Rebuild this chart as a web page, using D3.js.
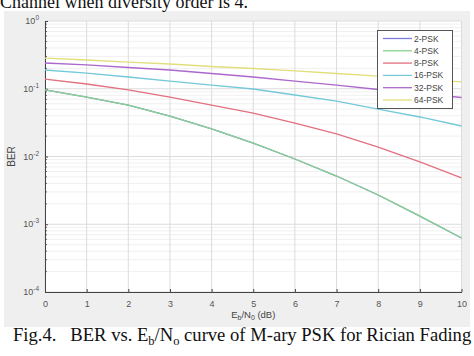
<!DOCTYPE html>
<html><head><meta charset="utf-8">
<script src="https://cdn.jsdelivr.net/npm/d3@7"></script>
<style>html,body{margin:0;padding:0;background:#fff;overflow:hidden}</style>
</head><body>
<svg id="c" width="474" height="356"></svg>
<script>
const ebno = [0,1,2,3,4,5,6,7,8,9,10];
const seriesNames = ["2-PSK","4-PSK","8-PSK","16-PSK","32-PSK","64-PSK"];
const ber2psk  = [0.0959,0.0755,0.0575,0.0396,0.0255,0.0158,0.00918,0.00515,0.00270,0.00132,0.000627];
const ber4psk  = [0.0959,0.0755,0.0575,0.0396,0.0255,0.0158,0.00918,0.00515,0.00270,0.00132,0.000627];
const ber8psk  = [0.139,0.1175,0.096,0.0755,0.0575,0.0438,0.0312,0.0215,0.0138,0.0083,0.00482];
const ber16psk = [0.189,0.1706,0.149,0.130,0.1135,0.0991,0.0809,0.0659,0.0502,0.0383,0.0282];
const ber32psk = [0.240,0.2244,0.206,0.189,0.168,0.149,0.130,0.1135,0.0975,0.0851,0.0743];
const ber64psk = [0.284,0.2656,0.248,0.232,0.213,0.199,0.183,0.168,0.154,0.139,0.126];
const xTicks = [0,1,2,3,4,5,6,7,8,9,10];
const yTicks = [1,0.1,0.01,0.001,0.0001];
const yTickExp = ["0","-1","-2","-3","-4"];
const colors = ["#7c7cd8","#88d48c","#e2707e","#74c8d8","#ac68cc","#e2de7c"];
const allSeries = [ber2psk,ber4psk,ber8psk,ber16psk,ber32psk,ber64psk];

const svg = d3.select("#c");
// figure gray background
svg.append("rect").attr("x",4).attr("y",11).attr("width",466).attr("height",316).attr("fill","#efefef");
// caption texts
svg.append("text").attr("x",0).attr("y",8).attr("font-family","Liberation Serif, Times New Roman, serif")
  .attr("font-size",18).attr("fill","#111").text("Channel when diversity order is 4.");
const cap = svg.append("text").attr("x",13).attr("y",341).attr("font-family","Liberation Serif, Times New Roman, serif")
  .attr("font-size",18.6).attr("fill","#111").attr("xml:space","preserve");
cap.append("tspan").text("Fig.4.   BER vs. E");
cap.append("tspan").attr("font-size",12.5).attr("dy",4).text("b");
cap.append("tspan").attr("dy",-4).text("/N");
cap.append("tspan").attr("font-size",12.5).attr("dy",4).text("o");
cap.append("tspan").attr("dy",-4).text(" curve of M-ary PSK for Rician Fading");

const L=45, R=461.5, T=21, B=292;
const x = d3.scaleLinear().domain([0,10]).range([L,R]);
const y = d3.scaleLog().domain([1e-4,1]).range([B,T]);
svg.append("rect").attr("x",L).attr("y",T).attr("width",R-L).attr("height",B-T).attr("fill","#fff");

// minor grid
const minor = [];
for (let e=-4;e<0;e++) for (let m=2;m<=9;m++) minor.push(m*Math.pow(10,e));
svg.append("g").selectAll("line").data(minor).join("line")
  .attr("x1",L).attr("x2",R).attr("y1",d=>y(d)).attr("y2",d=>y(d))
  .attr("stroke","#ececec").attr("stroke-width",0.8);
// major grid
svg.append("g").selectAll("line").data(yTicks).join("line")
  .attr("x1",L).attr("x2",R).attr("y1",d=>y(d)).attr("y2",d=>y(d))
  .attr("stroke","#dcdcdc").attr("stroke-width",1);
svg.append("g").selectAll("line").data(xTicks).join("line")
  .attr("x1",d=>x(d)).attr("x2",d=>x(d)).attr("y1",T).attr("y2",B)
  .attr("stroke","#dcdcdc").attr("stroke-width",1);

// axes
const gx = svg.append("g").attr("transform",`translate(0,${B})`)
  .call(d3.axisBottom(x).tickValues(xTicks).tickSize(-3).tickSizeOuter(0).tickFormat(d3.format("d")).tickPadding(9));
gx.select(".domain").attr("stroke","#444");
gx.selectAll(".tick line").attr("stroke","#444");
gx.selectAll("text").attr("font-family","Liberation Sans, Arial, sans-serif").attr("font-size",9).attr("fill","#555");

const gy = svg.append("g").attr("transform",`translate(${L},0)`)
  .call(d3.axisLeft(y).tickValues(yTicks).tickSize(-3).tickSizeOuter(0).tickFormat(()=>""));
gy.select(".domain").attr("stroke","#444");
gy.selectAll(".tick line").attr("stroke","#444");
svg.append("g").selectAll("line").data(minor).join("line")
  .attr("x1",L).attr("x2",L+2).attr("y1",d=>y(d)).attr("y2",d=>y(d)).attr("stroke","#444").attr("stroke-width",0.8);
const yl = svg.append("g").selectAll("text").data(yTicks).join("text")
  .attr("x",L-6).attr("y",d=>y(d)+3).attr("text-anchor","end")
  .attr("font-family","Liberation Sans, Arial, sans-serif").attr("font-size",9).attr("fill","#555");
yl.append("tspan").text("10");
yl.append("tspan").attr("font-size",6.5).attr("dy",-4).text((d,i)=>yTickExp[i]);

svg.append("text").attr("transform",`translate(15,${(T+B)/2}) rotate(-90)`).attr("text-anchor","middle")
  .attr("font-family","Liberation Sans, Arial, sans-serif").attr("font-size",10).attr("fill","#444").text("BER");
const xl = svg.append("text").attr("x",(L+R)/2).attr("y",318).attr("text-anchor","middle")
  .attr("font-family","Liberation Sans, Arial, sans-serif").attr("font-size",9.5).attr("fill","#444");
xl.append("tspan").text("E");
xl.append("tspan").attr("font-size",7).attr("dy",2).text("b");
xl.append("tspan").attr("dy",-2).text("/N");
xl.append("tspan").attr("font-size",7).attr("dy",2).text("0");
xl.append("tspan").attr("dy",-2).text(" (dB)");

// lines
const line = d3.line().x((d,i)=>x(ebno[i])).y(d=>y(d));
svg.append("g").selectAll("path").data(allSeries).join("path")
  .attr("d",d=>line(d)).attr("fill","none").attr("stroke",(d,i)=>colors[i]).attr("stroke-width",1.3);

// legend
const lg = svg.append("g");
lg.append("rect").attr("x",377.5).attr("y",30.5).attr("width",75).attr("height",78)
  .attr("fill","#fff").attr("stroke","#555").attr("stroke-width",1);
seriesNames.forEach((n,i)=>{
  const yy = 38.5 + i*12.3;
  lg.append("line").attr("x1",383).attr("x2",412).attr("y1",yy).attr("y2",yy).attr("stroke",colors[i]).attr("stroke-width",1.3);
  lg.append("text").attr("x",414).attr("y",yy+3).attr("font-family","Liberation Sans, Arial, sans-serif")
    .attr("font-size",8.5).attr("fill","#444").text(n);
});
</script>
</body></html>
